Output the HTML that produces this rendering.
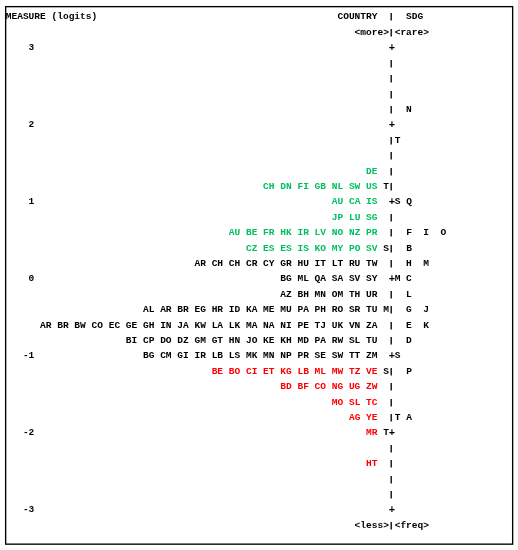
<!DOCTYPE html>
<html><head><meta charset="utf-8"><style>
html,body{margin:0;padding:0;background:#fff;}
body{width:518px;height:550px;position:relative;overflow:hidden;}
.l{position:absolute;left:5.72px;white-space:pre;font-family:"Liberation Mono",monospace;font-weight:bold;font-size:9.54px;line-height:15.40px;height:15.40px;color:#000;}
.g{color:#00c060;}
.r{color:#ff0000;}
.p{display:inline-block;width:5.724px;text-align:center;font-size:10.6px;line-height:0;transform:translate(-0.1px,0.8px);}
.b{display:inline-block;transform:translateX(-0.6px) scaleX(1.12);clip-path:inset(3.9px 0 3.8px 0);}
svg{position:absolute;left:0;top:0;}
</style></head><body>
<div class="l" style="top:9.00px">MEASURE (logits)                                          COUNTRY  <span class="b">|</span>  SDG</div>
<div class="l" style="top:25.00px">                                                             &lt;more&gt;<span class="b">|</span>&lt;rare&gt;</div>
<div class="l" style="top:40.00px">    3                                                              <span class="p">+</span></div>
<div class="l" style="top:56.00px">                                                                   <span class="b">|</span></div>
<div class="l" style="top:71.00px">                                                                   <span class="b">|</span></div>
<div class="l" style="top:87.00px">                                                                   <span class="b">|</span></div>
<div class="l" style="top:102.00px">                                                                   <span class="b">|</span>  N</div>
<div class="l" style="top:117.00px">    2                                                              <span class="p">+</span></div>
<div class="l" style="top:133.00px">                                                                   <span class="b">|</span>T</div>
<div class="l" style="top:148.00px">                                                                   <span class="b">|</span></div>
<div class="l" style="top:164.00px">                                                               <span class="g">DE</span>  <span class="b">|</span></div>
<div class="l" style="top:179.00px">                                             <span class="g">CH DN FI GB NL SW US</span> T<span class="b">|</span></div>
<div class="l" style="top:194.00px">    1                                                    <span class="g">AU CA IS</span>  <span class="p">+</span>S Q</div>
<div class="l" style="top:210.00px">                                                         <span class="g">JP LU SG</span>  <span class="b">|</span></div>
<div class="l" style="top:225.00px">                                       <span class="g">AU BE FR HK IR LV NO NZ PR</span>  <span class="b">|</span>  F  I  O</div>
<div class="l" style="top:241.00px">                                          <span class="g">CZ ES ES IS KO MY PO SV</span> S<span class="b">|</span>  B</div>
<div class="l" style="top:256.00px">                                 AR CH CH CR CY GR HU IT LT RU TW  <span class="b">|</span>  H  M</div>
<div class="l" style="top:271.00px">    0                                           BG ML QA SA SV SY  <span class="p">+</span>M C</div>
<div class="l" style="top:287.00px">                                                AZ BH MN OM TH UR  <span class="b">|</span>  L</div>
<div class="l" style="top:302.00px">                        AL AR BR EG HR ID KA ME MU PA PH RO SR TU M<span class="b">|</span>  G  J</div>
<div class="l" style="top:318.00px">      AR BR BW CO EC GE GH IN JA KW LA LK MA NA NI PE TJ UK VN ZA  <span class="b">|</span>  E  K</div>
<div class="l" style="top:333.00px">                     BI CP DO DZ GM GT HN JO KE KH MD PA RW SL TU  <span class="b">|</span>  D</div>
<div class="l" style="top:348.00px">   -1                   BG CM GI IR LB LS MK MN NP PR SE SW TT ZM  <span class="p">+</span>S</div>
<div class="l" style="top:364.00px">                                    <span class="r">BE BO CI ET KG LB ML MW TZ VE</span> S<span class="b">|</span>  P</div>
<div class="l" style="top:379.00px">                                                <span class="r">BD BF CO NG UG ZW</span>  <span class="b">|</span></div>
<div class="l" style="top:395.00px">                                                         <span class="r">MO SL TC</span>  <span class="b">|</span></div>
<div class="l" style="top:410.00px">                                                            <span class="r">AG YE</span>  <span class="b">|</span>T A</div>
<div class="l" style="top:425.00px">   -2                                                          <span class="r">MR</span> T<span class="p">+</span></div>
<div class="l" style="top:441.00px">                                                                   <span class="b">|</span></div>
<div class="l" style="top:456.00px">                                                               <span class="r">HT</span>  <span class="b">|</span></div>
<div class="l" style="top:472.00px">                                                                   <span class="b">|</span></div>
<div class="l" style="top:487.00px">                                                                   <span class="b">|</span></div>
<div class="l" style="top:502.00px">   -3                                                              <span class="p">+</span></div>
<div class="l" style="top:518.00px">                                                             &lt;less&gt;<span class="b">|</span>&lt;freq&gt;</div>
<svg width="518" height="550"><rect x="5.65" y="6.65" width="507" height="537.5" fill="none" stroke="#000" stroke-width="1.35"/></svg>
</body></html>
